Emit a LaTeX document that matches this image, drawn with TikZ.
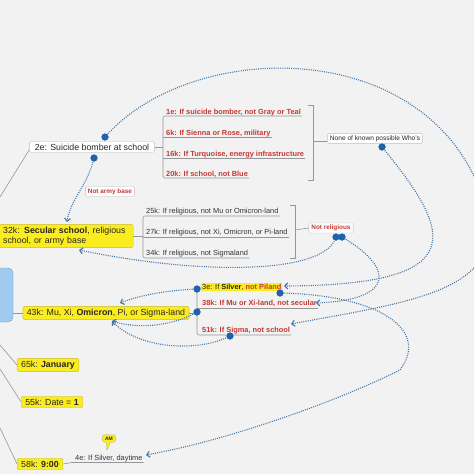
\documentclass[tikz,border=0pt]{standalone}
\usepackage{fontspec}
\setmainfont{Liberation Sans}
\usetikzlibrary{arrows.meta,calc}
\definecolor{bgc}{RGB}{242,242,242}
\definecolor{redt}{RGB}{198,55,50}
\definecolor{relc}{RGB}{66,116,166}
\definecolor{dotc}{RGB}{32,98,172}
\definecolor{yel}{RGB}{250,236,30}
\definecolor{yeld}{RGB}{205,188,45}
\definecolor{bluebox}{RGB}{160,202,238}
\definecolor{blueboxd}{RGB}{112,160,210}
\definecolor{linec}{RGB}{150,150,150}
\newcommand\fszA{\fontsize{8.8}{10}\selectfont}
\newcommand\fszB{\fontsize{7.4}{8.5}\selectfont}
\begin{document}
\begin{tikzpicture}[x=1pt,y=-1pt,
  tree/.style={draw=linec,line width=0.6pt},
  wbox/.style={draw=gray!50,fill=white,rounded corners=1.5pt,inner xsep=3pt,inner ysep=2pt,text=black!85},
  ybox/.style={draw=yeld,fill=yel,rounded corners=2pt,inner xsep=4pt,inner ysep=2.5pt,text=black!85,font=\fszA},
  redtxt/.style={font=\fszB\bfseries,text=redt,inner sep=0pt,anchor=base west},
  grytxt/.style={font=\fszB,text=black!80,inner sep=0pt,anchor=base west},
  rel/.style={draw=relc,line width=1.1pt,dash pattern=on 1pt off 1.2pt},
  relarr/.style={-{Straight Barb[length=3pt,width=6pt]}},
  reldot/.style={circle,fill=dotc,inner sep=0pt,minimum size=7pt}]
\fill[bgc] (0,0) rectangle (474,474);
\useasboundingbox (0,0) rectangle (474,474);
\clip (0,0) rectangle (474,474);

% root (cut off at left)
\node[draw=blueboxd,fill=bluebox,rounded corners=5pt,minimum width=30pt,minimum height=54pt,inner sep=0pt] (root) at (-2,295) {};

% 2e branch
\node[wbox,font=\fszA,inner xsep=5.5pt] (n2e) at (92,147) {2e: Suicide bomber at school};
\node[redtxt] (n1e) at (166,114) {1e: If suicide bomber, not Gray or Teal};
\node[redtxt] (n6k) at (166,135) {6k: If Sienna or Rose, military};
\node[redtxt] (n16k) at (166,156) {16k: If Turquoise, energy infrastructure};
\node[redtxt] (n20k) at (166,176) {20k: If school, not Blue};
\node[wbox,font=\fontsize{6.6}{7.5}\selectfont,inner xsep=2.5pt] (nNone) at (375,138.5) {None of known possible Who's};
\node[wbox,font=\fontsize{6.4}{7.5}\selectfont\bfseries,text=redt,inner xsep=2.5pt] (nNAB) at (110,191.5) {Not army base};

% 32k branch
\node[ybox,anchor=west,align=left,text width=126pt] (n32) at (-1,236) {32k: \textbf{Secular school}, religious\\school, or army base};
\node[grytxt] (n25) at (146,213.5) {25k: If religious, not Mu or Omicron-land};
\node[grytxt] (n27) at (146,234.5) {27k: If religious, not Xi, Omicron, or Pi-land};
\node[grytxt] (n34) at (146,255.5) {34k: If religious, not Sigmaland};
\node[wbox,font=\fontsize{6.4}{7.5}\selectfont\bfseries,text=redt,inner xsep=2.5pt] (nNR) at (331,228) {Not religious};

% 43k branch
\node[ybox] (n43) at (106,313) {43k: Mu, Xi, \textbf{Omicron}, Pi, or Sigma-land};
\node[fill=yel,inner xsep=1pt,inner ysep=1.2pt,anchor=west,font=\fszB,text=black!85] (n3e) at (201,287) {3e: If \textbf{Silver}, \textcolor{redt}{\textbf{not Piland}}};
\node[redtxt] (n38) at (202,305.5) {38k: If Mu or Xi-land, not secular};
\node[redtxt] (n51) at (202,332.5) {51k: If Sigma, not school};

% lower branches
\node[ybox] (n65) at (48,365) {65k: \textbf{January}};
\node[ybox] (n55) at (52,402) {55k: Date = \textbf{1}};
\node[ybox] (n58) at (40,464) {58k: \textbf{9:00}};
\node[grytxt] (n4e) at (75,460) {4e: If Silver, daytime};
\node[ybox,font=\fontsize{5}{6}\selectfont\bfseries,inner xsep=2.5pt,inner ysep=2pt] (nAM) at (109,438.5) {AM};
\fill[yel] ($(nAM.south)+(-2.5,-0.6)$) -- (107,450) -- ($(nAM.south)+(1.5,-0.6)$) -- cycle;
\draw[yeld,line width=0.4pt] ($(nAM.south)+(-2.5,0)$) -- (107,450) -- ($(nAM.south)+(1.5,0)$);

% tree connectors
\coordinate (L1) at (0,197);
\coordinate (L2) at (0,345);
\coordinate (L3) at (0,369);
\coordinate (L4) at (0,428);
\draw[tree] (L1) -- ($(n2e.west)+(0,3)$);
\draw[tree] (L2) -- (n65.west);
\draw[tree] (L3) -- (n55.west);
\draw[tree] (L4) -- (n58.west);
\draw[tree] (root.east |- n43.west) -- (n43.west);

\draw[tree] (n2e.east) -- (163,147);
\draw[tree,rounded corners=2pt] ($(n1e.base east)+(1,2)$) -- (163,116) -- (163,178) -- ($(n20k.base east)+(1,2)$);
\draw[tree] (163,137) -- ($(n6k.base east)+(1,2)$);
\draw[tree] (163,158) -- ($(n16k.base east)+(1,2)$);
\draw[tree] (308,105) -- (313,105) -- (313,180) -- (308,180);
\coordinate (b1) at (313,141);
\draw[tree] (b1) -- (nNone.west |- b1);

\draw[tree] (n32.east) -- (143,236);
\draw[tree,rounded corners=2pt] ($(n25.base east)+(1,2.5)$) -- (143,216) -- (143,258) -- ($(n34.base east)+(1,2.5)$);
\draw[tree] (143,237) -- ($(n27.base east)+(1,2.5)$);
\draw[tree] (290,205) -- (295,205) -- (295,258) -- (290,258);
\coordinate (b2) at (295,230);
\draw[tree] (b2) -- (nNR.west);

\draw[tree] (n43.east) -- (197,313);
\draw[tree,rounded corners=2pt] (197,288) -- (197,335) -- ($(n51.base east)+(1,2.5)$);
\draw[tree] (197,308) -- ($(n38.base east)+(1,2.5)$);
\draw[tree] (197,288) -- (n3e.west);
\draw[tree] (n58.east) -- (72,462.5) -- ($(n4e.base east)+(1,2.5)$);

% relationship endpoints
\node[reldot] (d2eT) at (105,137) {};
\node[reldot] (d2eB) at (94,158) {};
\node[reldot] (dNone) at (382,147) {};
\node[reldot] (dNRa) at (336,237) {};
\node[reldot] (dNRb) at (342,237) {};
\node[reldot] (d3eL) at (197,289) {};
\node[reldot] (d3eR) at (280,293) {};
\node[reldot] (d38L) at (197,312) {};
\node[reldot] (d51) at (230,336) {};
\coordinate (a32T) at (67,222);
\coordinate (a32R) at (79,250);
\coordinate (a43U) at (120,303);
\coordinate (a43L) at (112,321);
\coordinate (a3e) at (284,286);
\coordinate (a38) at (316,303);
\coordinate (a51) at (291,324);
\coordinate (a4e) at (146,455);

% relationships
\draw[rel,relarr] (d2eT.center) .. controls (190,40) and (420,35) .. (480,190) .. controls (520,290) and (420,300) .. (a51);
\draw[rel,relarr] (d2eB.center) .. controls (88,185) and (70,200) .. (a32T);
\draw[rel,relarr] (dNRa.center) .. controls (325,275) and (200,275) .. (a32R);
\draw[rel,relarr] (dNone.center) .. controls (455,235) and (470,285) .. (a3e);
\draw[rel,relarr] (dNRb.center) .. controls (395,268) and (395,300) .. (a38);
\draw[rel,relarr] (d3eL.center) .. controls (170,290) and (140,295) .. (a43U);
\draw[rel,relarr] (d3eR.center) .. controls (380,295) and (430,330) .. (400,370) .. controls (340,400) and (230,440) .. (a4e);
\draw[rel,relarr] (d38L.center) .. controls (175,325) and (140,330) .. (a43L);
\draw[rel,relarr] (d51.center) .. controls (200,352) and (140,350) .. (a43L);

% redraw dots on top
\foreach \d in {d2eT,d2eB,dNone,dNRa,dNRb,d3eL,d3eR,d38L,d51}
  \fill[dotc] (\d) circle (3.5pt);
\end{tikzpicture}
\end{document}
